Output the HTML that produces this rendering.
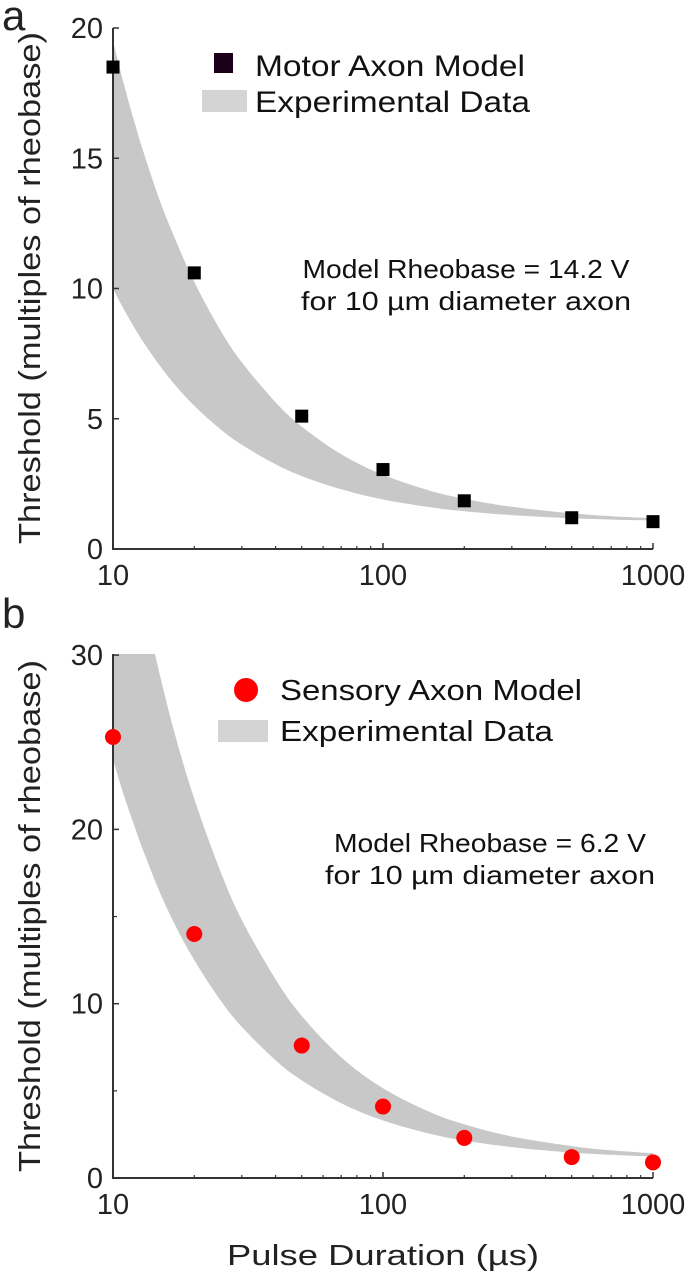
<!DOCTYPE html>
<html><head><meta charset="utf-8"><style>
html,body{margin:0;padding:0;background:#fff;}
svg{display:block;font-family:"Liberation Sans",Arial,sans-serif;}
</style></head><body>
<svg id="fig" width="685" height="1282" viewBox="0 0 685 1282" xmlns="http://www.w3.org/2000/svg">
<defs>
<clipPath id="clipA"><rect x="113" y="28" width="545" height="521"/></clipPath>
<clipPath id="clipB"><rect x="100" y="654" width="560" height="525"/></clipPath>
</defs>
<text x="2" y="30" font-size="42" fill="#222">a</text>
<text x="2" y="628" font-size="42" fill="#222">b</text>
<g id="panelA"></g>
<g id="panelB"></g>
<text x="383" y="1265" font-size="29" fill="#222" text-anchor="middle" textLength="312" lengthAdjust="spacingAndGlyphs">Pulse Duration (µs)</text>
<g>
<rect x="214" y="53" width="19" height="20" fill="#1a0018"/>
<text x="255" y="76" font-size="30" fill="#111" textLength="270" lengthAdjust="spacingAndGlyphs">Motor Axon Model</text>
<rect x="202" y="90" width="45" height="22" fill="#d4d4d4"/>
<text x="255" y="112" font-size="30" fill="#111" textLength="275" lengthAdjust="spacingAndGlyphs">Experimental Data</text>
</g>
<text x="466" y="278" font-size="26" fill="#111" text-anchor="middle" textLength="327" lengthAdjust="spacingAndGlyphs">Model Rheobase = 14.2 V</text>
<text x="466" y="310" font-size="26" fill="#111" text-anchor="middle" textLength="330" lengthAdjust="spacingAndGlyphs">for 10 µm diameter axon</text>
<g>
<circle cx="246" cy="690" r="12" fill="#ff0000"/>
<text x="280" y="700" font-size="29" fill="#111" textLength="302" lengthAdjust="spacingAndGlyphs">Sensory Axon Model</text>
<rect x="218" y="720" width="50" height="22" fill="#d4d4d4"/>
<text x="280" y="741" font-size="29" fill="#111" textLength="273" lengthAdjust="spacingAndGlyphs">Experimental Data</text>
</g>
<text x="490" y="852" font-size="26" fill="#111" text-anchor="middle" textLength="312" lengthAdjust="spacingAndGlyphs">Model Rheobase = 6.2 V</text>
<text x="490" y="884" font-size="26" fill="#111" text-anchor="middle" textLength="330" lengthAdjust="spacingAndGlyphs">for 10 µm diameter axon</text>
</svg>
<script>
// Panel a data
const durA = [10, 20, 50, 100, 200, 500, 1000];
const motorVals = [18.5, 10.6, 5.1, 3.05, 1.85, 1.2, 1.05];
const bandDur = [10, 11, 12, 13, 15, 17, 20, 25, 30, 40, 50, 70, 100, 150, 200, 300, 500, 700, 1000];
const bandUpperA = [19.5, 17.8, 16.4, 15.2, 13.3, 11.9, 10.25, 8.4, 7.17, 5.63, 4.7, 3.64, 2.85, 2.23, 1.93, 1.62, 1.37, 1.26, 1.185];
const bandLowerA = [10, 9.18, 8.5, 7.92, 7, 6.29, 5.5, 4.6, 4, 3.25, 2.8, 2.29, 1.9, 1.6, 1.45, 1.3, 1.18, 1.13, 1.09];
const yTicksA = [0, 5, 10, 15, 20];
// Panel b data
const durB = [10, 20, 50, 100, 200, 500, 1000];
const sensoryVals = [25.3, 14.0, 7.6, 4.1, 2.3, 1.2, 0.9];
const bandUpperB = [42.5, 38.7, 35.6, 32.9, 28.7, 25.4, 21.75, 17.6, 14.8, 11.4, 9.3, 6.93, 5.15, 3.77, 3.08, 2.38, 1.83, 1.59, 1.42];
const bandLowerB = [24, 21.9, 20.2, 18.7, 16.3, 14.5, 12.5, 10.2, 8.67, 6.75, 5.6, 4.29, 3.3, 2.53, 2.15, 1.77, 1.46, 1.33, 1.23];
const yTicksB = [0, 10, 20, 30];
const yMinorB = [5, 15, 25];
const xTicks = [10, 100, 1000];

const NS = "http://www.w3.org/2000/svg";
function mk(tag, attrs, parent){const e=document.createElementNS(NS,tag);for(const k in attrs)e.setAttribute(k,attrs[k]);parent.appendChild(e);return e;}
const xS = t => 113 + (Math.log10(t) - 1) * 270;

function spline(pts, start){
  let d = start ? "M"+pts[0][0].toFixed(1)+","+pts[0][1].toFixed(1) : "L"+pts[0][0].toFixed(1)+","+pts[0][1].toFixed(1);
  for(let i=0;i<pts.length-1;i++){
    const p0=pts[Math.max(0,i-1)],p1=pts[i],p2=pts[i+1],p3=pts[Math.min(pts.length-1,i+2)];
    const c1=[p1[0]+(p2[0]-p0[0])/6,p1[1]+(p2[1]-p0[1])/6];
    const c2=[p2[0]-(p3[0]-p1[0])/6,p2[1]-(p3[1]-p1[1])/6];
    d+="C"+c1.map(v=>v.toFixed(1)).join(",")+" "+c2.map(v=>v.toFixed(1)).join(",")+" "+p2[0].toFixed(1)+","+p2[1].toFixed(1);
  }
  return d;
}

function drawPanel(g, opts){
  const yS = opts.yS;
  const up = bandDur.map((t,i)=>[xS(t), yS(opts.upper[i])]);
  const lo = bandDur.map((t,i)=>[xS(t), yS(opts.lower[i])]).reverse();
  const d = spline(up,true) + spline(lo,false) + "Z";
  const band = mk("path",{d:d,fill:"#c8c8c8","clip-path":opts.clip},g);
  
  
  const ax = mk("path",{d:`M113,${opts.yTop}V${opts.y0}H653`,stroke:"#333","stroke-width":2,fill:"none"},g);
  
  
  for(let dec=10;dec<1000;dec*=10){for(let m=2;m<=9;m++){const x=xS(dec*m);
    const tk=mk("line",{x1:x,x2:x,y1:opts.y0,y2:opts.y0-3,stroke:"#333","stroke-width":1.2},g);
    
    }}
  xTicks.forEach(t=>{const x=xS(t);
    const tk=mk("line",{x1:x,x2:x,y1:opts.y0,y2:opts.y0-6,stroke:"#333","stroke-width":1.5},g);
    
    
    const lb=mk("text",{x:x,y:opts.y0+36,"font-size":29,fill:"#222","text-anchor":"middle"},g);
    lb.textContent=t;
    
    });
  opts.yTicks.forEach(v=>{const y=yS(v);
    const tk=mk("line",{x1:113,x2:119,y1:y,y2:y,stroke:"#333","stroke-width":1.5},g);
    
    
    const lb=mk("text",{x:103,y:y+10,"font-size":29,fill:"#222","text-anchor":"end"},g);
    lb.textContent=v;
    
    });
  (opts.yMinor||[]).forEach(v=>{const y=yS(v);
    const tk=mk("line",{x1:113,x2:117,y1:y,y2:y,stroke:"#333","stroke-width":1.2},g);
    
    });
  opts.dur.forEach((t,i)=>{
    let p;
    if(opts.marker==="square"){p=mk("rect",{x:xS(t)-6.5,y:yS(opts.vals[i])-6.5,width:13,height:13,fill:"#000"},g);}
    else {p=mk("circle",{cx:xS(t),cy:yS(opts.vals[i]),r:8,fill:"#ff0000"},g);}
    
    
  });
  const yt=mk("text",{x:0,y:0,"font-size":31,fill:"#222","text-anchor":"middle",textLength:512,lengthAdjust:"spacingAndGlyphs",transform:`translate(40,${opts.yTitleY}) rotate(-90)`},g);
  yt.textContent="Threshold (multiples of rheobase)";
  
  
}

drawPanel(document.getElementById("panelA"),{
  yS: v => 549 - v*26.05, y0:549, yTop:28, clip:"url(#clipA)",
  upper:bandUpperA, lower:bandLowerA,
  yTicks:yTicksA, dur:durA, vals:motorVals, marker:"square", pointName:"motor-model-point", yTitleY:288
});
drawPanel(document.getElementById("panelB"),{
  yS: v => 1178 - v*17.43, y0:1178, yTop:654, clip:"url(#clipB)",
  upper:bandUpperB, lower:bandLowerB,
  yTicks:yTicksB, yMinor:yMinorB, dur:durB, vals:sensoryVals, marker:"circle", pointName:"sensory-model-point", yTitleY:916
});
</script>
</body></html>
